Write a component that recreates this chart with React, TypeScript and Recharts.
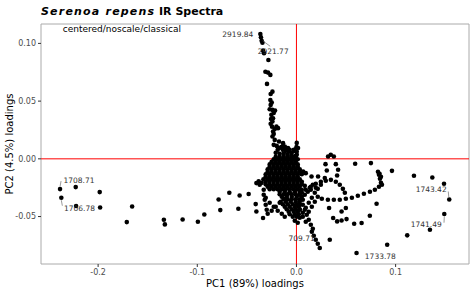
import React from 'react';
import { ScatterChart, Scatter, XAxis, YAxis, ReferenceLine, ReferenceArea } from 'recharts';

const FONT = '"DejaVu Sans", sans-serif';

type P = [number, number];

const xTicks = [-0.2, -0.1, 0, 0.1];
const yTicks = [-0.05, 0, 0.05, 0.1];

const leftWing: P[] = [
  [-0.2226, -0.0245], [-0.2222, -0.0409], [-0.1984, -0.0288], [-0.198, -0.0421], [-0.1657, -0.0413],
  [-0.1711, -0.0548], [-0.1337, -0.0528], [-0.1327, -0.0568], [-0.1148, -0.0525], [-0.0994, -0.0545],
  [-0.0929, -0.0482], [-0.0785, -0.0352], [-0.0768, -0.0444], [-0.0677, -0.0294], [-0.0586, -0.0433],
  [-0.0573, -0.0317], [-0.0482, -0.0305], [-0.0411, -0.0392], [-0.0404, -0.0456], [-0.0337, -0.0513],
  [-0.0381, -0.0195], [-0.0351, -0.0208], [-0.0404, -0.021], [-0.0371, -0.0225],
];

const spike: P[] = [
  [-0.0358, 0.1053], [-0.0343, 0.1006], [-0.0337, 0.0937], [-0.0327, 0.0914], [-0.0283, 0.0856],
  [-0.0313, 0.0755], [-0.0287, 0.0747], [-0.0263, 0.0727], [-0.0297, 0.0649], [-0.0242, 0.0582],
  [-0.026, 0.0562], [-0.0263, 0.051], [-0.0249, 0.0487], [-0.027, 0.043], [-0.0242, 0.0424],
  [-0.0216, 0.0418], [-0.0253, 0.0381], [-0.0236, 0.0352], [-0.0242, 0.0323], [-0.0246, 0.0279],
  [-0.0236, 0.0236], [-0.0202, 0.0279], [-0.0186, 0.0266], [-0.0242, 0.0193], [-0.0219, 0.0164],
  [-0.0176, 0.015], [-0.0135, 0.0136], [-0.0118, 0.0106], [-0.0085, 0.0093], [0.0, 0.0101],
  [0.0016, 0.0093], [-0.0229, 0.0216], [-0.0229, 0.0121], [-0.0199, 0.0112], [-0.0169, 0.0095],
  [-0.0138, 0.0078], [-0.0108, 0.0069], [-0.0078, 0.0061], [-0.0047, 0.0052], [-0.0017, 0.0069],
  [0.0003, 0.0035], [0.0003, 0.0061], [0.0003, 0.0138],
  [-0.026, 0.0467], [-0.0229, 0.0398], [-0.026, 0.0303], [-0.0219, 0.0258], [-0.0256, 0.0345],
  [-0.0189, 0.0078], [-0.0148, 0.0104], [-0.0108, 0.0095], [-0.0068, 0.0078], [-0.0027, 0.0078],
  [-0.0209, 0.0052], [-0.0169, 0.0043], [-0.0128, 0.0043], [-0.0088, 0.0035], [-0.0047, 0.0026], [-0.0007, 0.0026],
];

const core: P[] = [
  [-0.0209, 0.0017], [-0.0169, 0.0017], [-0.0128, 0.0017], [-0.0088, 0.0017], [-0.0047, 0.0017], [-0.0007, 0.0017],
  [-0.0229, -0.0004], [-0.0189, -0.0004], [-0.0148, -0.0004], [-0.0108, -0.0004], [-0.0068, -0.0004], [-0.0027, -0.0004], [0.0013, -0.0004],
  [-0.025, -0.0026], [-0.0209, -0.0026], [-0.0169, -0.0026], [-0.0128, -0.0026], [-0.0088, -0.0026], [-0.0047, -0.0026], [-0.0007, -0.0026],
  [-0.027, -0.0048], [-0.0229, -0.0048], [-0.0189, -0.0048], [-0.0148, -0.0048], [-0.0108, -0.0048], [-0.0068, -0.0048], [-0.0027, -0.0048], [0.0013, -0.0048],
  [-0.027, -0.0069], [-0.0229, -0.0069], [-0.0189, -0.0069], [-0.0148, -0.0069], [-0.0108, -0.0069], [-0.0068, -0.0069], [-0.0027, -0.0069], [0.0013, -0.0069],
  [-0.029, -0.0091], [-0.025, -0.0091], [-0.0209, -0.0091], [-0.0169, -0.0091], [-0.0128, -0.0091], [-0.0088, -0.0091], [-0.0047, -0.0091], [-0.0007, -0.0091], [0.0033, -0.0091],
  [-0.029, -0.0112], [-0.025, -0.0112], [-0.0209, -0.0112], [-0.0169, -0.0112], [-0.0128, -0.0112], [-0.0088, -0.0112], [-0.0047, -0.0112], [-0.0007, -0.0112], [0.0033, -0.0112],
  [-0.031, -0.0134], [-0.027, -0.0134], [-0.0229, -0.0134], [-0.0189, -0.0134], [-0.0148, -0.0134], [-0.0108, -0.0134], [-0.0068, -0.0134], [-0.0027, -0.0134], [0.0013, -0.0134], [0.0054, -0.0134],
  [-0.031, -0.0156], [-0.027, -0.0156], [-0.0229, -0.0156], [-0.0189, -0.0156], [-0.0148, -0.0156], [-0.0108, -0.0156], [-0.0068, -0.0156], [-0.0027, -0.0156], [0.0013, -0.0156],
  [-0.0333, -0.0177], [-0.029, -0.0177], [-0.025, -0.0177], [-0.0209, -0.0177], [-0.0169, -0.0177], [-0.0128, -0.0177], [-0.0088, -0.0177], [-0.0047, -0.0177], [-0.0007, -0.0177], [0.0033, -0.0177],
  [-0.031, -0.0199], [-0.027, -0.0199], [-0.0229, -0.0199], [-0.0189, -0.0199], [-0.0148, -0.0199], [-0.0108, -0.0199], [-0.0068, -0.0199], [-0.0027, -0.0199], [0.0013, -0.0199], [0.0054, -0.0199],
  [-0.031, -0.0221], [-0.027, -0.0221], [-0.0229, -0.0221], [-0.0189, -0.0221], [-0.0148, -0.0221], [-0.0108, -0.0221], [-0.0068, -0.0221], [-0.0027, -0.0221], [0.0013, -0.0221], [0.0054, -0.0221],
  [-0.029, -0.0242], [-0.025, -0.0242], [-0.0209, -0.0242], [-0.0169, -0.0242], [-0.0128, -0.0242], [-0.0088, -0.0242], [-0.0047, -0.0242], [-0.0007, -0.0242], [0.0033, -0.0242],
  [-0.027, -0.0264], [-0.0229, -0.0264], [-0.0189, -0.0264], [-0.0148, -0.0264], [-0.0108, -0.0264], [-0.0068, -0.0264], [-0.0027, -0.0264], [0.0013, -0.0264],
  [-0.0169, -0.0285], [-0.0118, -0.0285], [-0.0068, -0.0285], [-0.0017, -0.0285], [0.0033, -0.0285],
  [-0.0169, -0.0307], [-0.0128, -0.0307], [-0.0088, -0.0307], [-0.0047, -0.0307], [-0.0007, -0.0307], [0.0033, -0.0307],
  [-0.0148, -0.0329], [-0.0098, -0.0329], [-0.0047, -0.0329], [0.0003, -0.0329], [0.0054, -0.0329],
  [-0.0128, -0.035], [-0.0088, -0.035], [-0.0047, -0.035], [-0.0007, -0.035], [0.0033, -0.035],
  [-0.0159, -0.0372], [-0.0108, -0.0372], [-0.0058, -0.0372], [-0.0007, -0.0372], [0.0033, -0.0372],
  [-0.0138, -0.0394], [-0.0088, -0.0394], [-0.0037, -0.0394], [0.0003, -0.0394],
  [-0.0118, -0.0415], [-0.0068, -0.0415], [-0.0017, -0.0415], [0.0023, -0.0415],
  [-0.0098, -0.0437], [-0.0047, -0.0437], [-0.0007, -0.0437], [0.0033, -0.0437],
  [-0.0078, -0.0458], [-0.0027, -0.0458], [0.0013, -0.0458],
  [-0.0068, -0.048], [-0.0017, -0.048], [0.0023, -0.048],
  [-0.0037, -0.0502], [0.0003, -0.0502], [-0.0017, -0.0536], [0.0013, -0.0554],
];

const loops: P[] = [
  [-0.031, -0.0337], [-0.027, -0.0381], [-0.0229, -0.0415], [-0.0189, -0.045], [-0.0148, -0.0476], [-0.0118, -0.0502],
  [-0.029, -0.0476], [-0.025, -0.045], [-0.0209, -0.0415], [-0.0169, -0.0381], [-0.0128, -0.0346], [-0.0098, -0.0311],
  [-0.033, -0.0268], [-0.033, -0.0311], [-0.032, -0.0355], [-0.031, -0.0398], [-0.03, -0.0441],
];

const rightStrokes: P[] = [
  [0.0033, -0.051], [0.0064, -0.0467], [0.0094, -0.0424], [0.0124, -0.0381], [0.0155, -0.0337], [0.0185, -0.0294], [0.0215, -0.026], [0.0246, -0.0225],
  [0.0064, -0.0398], [0.0084, -0.0441], [0.0104, -0.0484], [0.0124, -0.0528], [0.0145, -0.0571], [0.0165, -0.0606],
  [0.0155, -0.0631], [0.0175, -0.0666], [0.0195, -0.0701], [0.0215, -0.0735],
  [0.0033, -0.0311], [0.0054, -0.0268], [0.0084, -0.0234], [0.0033, -0.0398], [0.0064, -0.0355], [0.0134, -0.0251], [0.0165, -0.0225],
  [0.0033, -0.0441], [0.0064, -0.0502], [0.0094, -0.0545], [0.0124, -0.0458], [0.0155, -0.0415], [0.0185, -0.0372],
  [0.0215, -0.0329], [0.0084, -0.0311], [0.0114, -0.0285], [0.0145, -0.0268], [0.0195, -0.0251],
  [0.0054, -0.0294], [0.0094, -0.0268], [0.0145, -0.0242], [0.0195, -0.0216], [0.0246, -0.0199], [0.0296, -0.019], [0.0347, -0.0182],
  [0.0397, -0.0199], [0.0437, -0.0225], [0.0468, -0.026], [0.0488, -0.0294],
  [0.0256, -0.0346], [0.0317, -0.0355], [0.0377, -0.0355],
  [0.0437, -0.0355], [0.0498, -0.0346], [0.0559, -0.0337], [0.0619, -0.032], [0.068, -0.0303], [0.0741, -0.0285],
  [0.0791, -0.0268], [0.0832, -0.0242], [0.0852, -0.0208], [0.0842, -0.0173], [0.0832, -0.0138], [0.0822, -0.0112],
  [0.0852, -0.0156], [0.0862, -0.0225],
];

const rightScatter: P[] = [
  [0.0346, 0.0035], [0.0319, 0.002], [0.0377, 0.002], [0.0293, -0.0046], [0.0397, -0.0046], [0.0592, -0.0043],
  [0.0751, -0.0037], [0.0306, -0.0101], [0.042, -0.0095], [0.0094, -0.0124], [0.0152, -0.0153], [0.0218, -0.0153],
  [0.0286, -0.0167], [0.041, -0.0144], [0.0067, -0.011], [0.0963, -0.0104], [0.0838, -0.013],
  [0.0329, -0.0426], [0.0455, -0.0456], [0.0498, -0.0426], [0.037, -0.0513], [0.041, -0.0542], [0.0455, -0.0534],
  [0.0505, -0.0522], [0.0582, -0.0562], [0.0657, -0.0556], [0.074, -0.0493], [0.0808, -0.0389], [0.0336, -0.0701],
  [0.0915, -0.0744], [0.1117, -0.0663], [0.1346, -0.0614], [0.1488, -0.0216], [0.137, -0.0162], [0.1185, -0.0147],
];

const labeledX = [-0.0364, -0.0351, -0.2384, -0.2371, 0.1541, 0.1491, 0.0606, 0.0235];
const labeledY = [0.1081, 0.1023, -0.0262, -0.0337, -0.0352, -0.0478, -0.0816, -0.0772];
const labelNames = ['2919.84', '2921.77', '1708.71', '1706.78', '1743.42', '1741.49', '1733.78', '709.71'];

const labelOffsets: Record<string, { dx: number; dy: number; anchor: string; seg?: [number, number, number, number] }> = {
  '2919.84': { dx: -7, dy: 2.5, anchor: 'end' },
  '2921.77': { dx: -4, dy: 13.5, anchor: 'start', seg: [1, 0, 8.5, 5.5] },
  '1708.71': { dx: 3.5, dy: -6.2, anchor: 'start', seg: [0, -2.5, 1, -8] },
  '1706.78': { dx: 2.7, dy: 12.8, anchor: 'start', seg: [0, 2.5, 1, 8] },
  '1743.42': { dx: -2.6, dy: -7, anchor: 'end', seg: [-0.5, -2.5, -1, -8] },
  '1741.49': { dx: -2.6, dy: 12.7, anchor: 'end', seg: [0, 2.5, -0.3, 8.7] },
  '1733.78': { dx: 8.3, dy: 5.5, anchor: 'start' },
  '709.71': { dx: -5, dy: -6.5, anchor: 'end' },
};

const allPoints = [...leftWing, ...spike, ...core, ...loops, ...rightStrokes, ...rightScatter].map(([x, y]) => ({ x, y }));
const labeledPoints = labelNames.map((label, i) => ({ x: labeledX[i], y: labeledY[i], label }));

const R = 2.3;

const Dot = (props: any) => {
  const { cx, cy } = props;
  if (cx == null || cy == null) return null;
  return <circle cx={cx} cy={cy} r={R} fill="#000" />;
};

const LabeledDot = (props: any) => {
  const { cx, cy, payload } = props;
  if (cx == null || cy == null) return null;
  const o = labelOffsets[payload.label];
  return (
    <g>
      <circle cx={cx} cy={cy} r={R} fill="#000" />
      {o.seg && (
        <line x1={cx + o.seg[0]} y1={cy + o.seg[1]} x2={cx + o.seg[2]} y2={cy + o.seg[3]} stroke="#555" strokeWidth={0.6} />
      )}
      <text x={cx + o.dx} y={cy + o.dy} textAnchor={o.anchor as any} fontSize={7.5} fill="#333" fontFamily={FONT}>
        {payload.label}
      </text>
    </g>
  );
};

const X_DOMAIN: [number, number] = [-0.2576, 0.174];
const Y_DOMAIN: [number, number] = [-0.0911, 0.1168];

export default function App() {
  return (
    <div style={{ position: 'absolute', left: 0, top: 0, width: 474, height: 293, background: '#fff' }}>
      <ScatterChart width={474} height={293} margin={{ top: 24, right: 5, bottom: 0, left: 0 }}>
        <XAxis
          type="number"
          dataKey="x"
          domain={X_DOMAIN}
          ticks={xTicks}
          allowDataOverflow
          tickFormatter={(v: number) => v.toFixed(1)}
          height={29}
          tickSize={3}
          tickMargin={2}
          axisLine={false}
          tickLine={{ stroke: '#333' }}
          tick={{ fontSize: 8, fill: '#4d4d4d', fontFamily: FONT }}
        />
        <YAxis
          type="number"
          dataKey="y"
          domain={Y_DOMAIN}
          ticks={yTicks}
          allowDataOverflow
          tickFormatter={(v: number) => v.toFixed(2)}
          width={41}
          tickSize={3}
          tickMargin={2}
          axisLine={false}
          tickLine={{ stroke: '#333' }}
          tick={{ fontSize: 8, fill: '#4d4d4d', fontFamily: FONT }}
        />
        <Scatter data={allPoints} shape={Dot} isAnimationActive={false} />
        <Scatter data={labeledPoints} shape={LabeledDot} isAnimationActive={false} />
        <ReferenceLine x={0} stroke="#ff0000" strokeWidth={1} />
        <ReferenceLine y={0} stroke="#ff0000" strokeWidth={1} />
        <ReferenceArea
          x1={X_DOMAIN[0]}
          x2={X_DOMAIN[1]}
          y1={Y_DOMAIN[0]}
          y2={Y_DOMAIN[1]}
          fill="none"
          fillOpacity={0}
          stroke="#aaaaaa"
          strokeWidth={1}
          ifOverflow="visible"
        />
      </ScatterChart>
      <svg width={474} height={293} style={{ position: 'absolute', left: 0, top: 0, pointerEvents: 'none' }}>
        <text x={41} y={14.5} fontFamily={FONT} fontWeight="bold" fontSize={11} fill="#000">
          <tspan fontStyle="italic" letterSpacing={1.2}>Serenoa repens</tspan>
        </text>
        <text x={159} y={14.5} fontFamily={FONT} fontWeight="bold" fontSize={11} fill="#000">IR Spectra</text>
        <text x={62.7} y={31.8} fontFamily={FONT} fontSize={9} fill="#000">centered/noscale/classical</text>
        <text x={255} y={287} textAnchor="middle" fontFamily={FONT} fontSize={10} fill="#000">PC1 (89%) loadings</text>
        <text x={13} y={144} textAnchor="middle" transform="rotate(-90 13 144)" fontFamily={FONT} fontSize={10} fill="#000">PC2 (4.5%) loadings</text>
      </svg>
    </div>
  );
}
